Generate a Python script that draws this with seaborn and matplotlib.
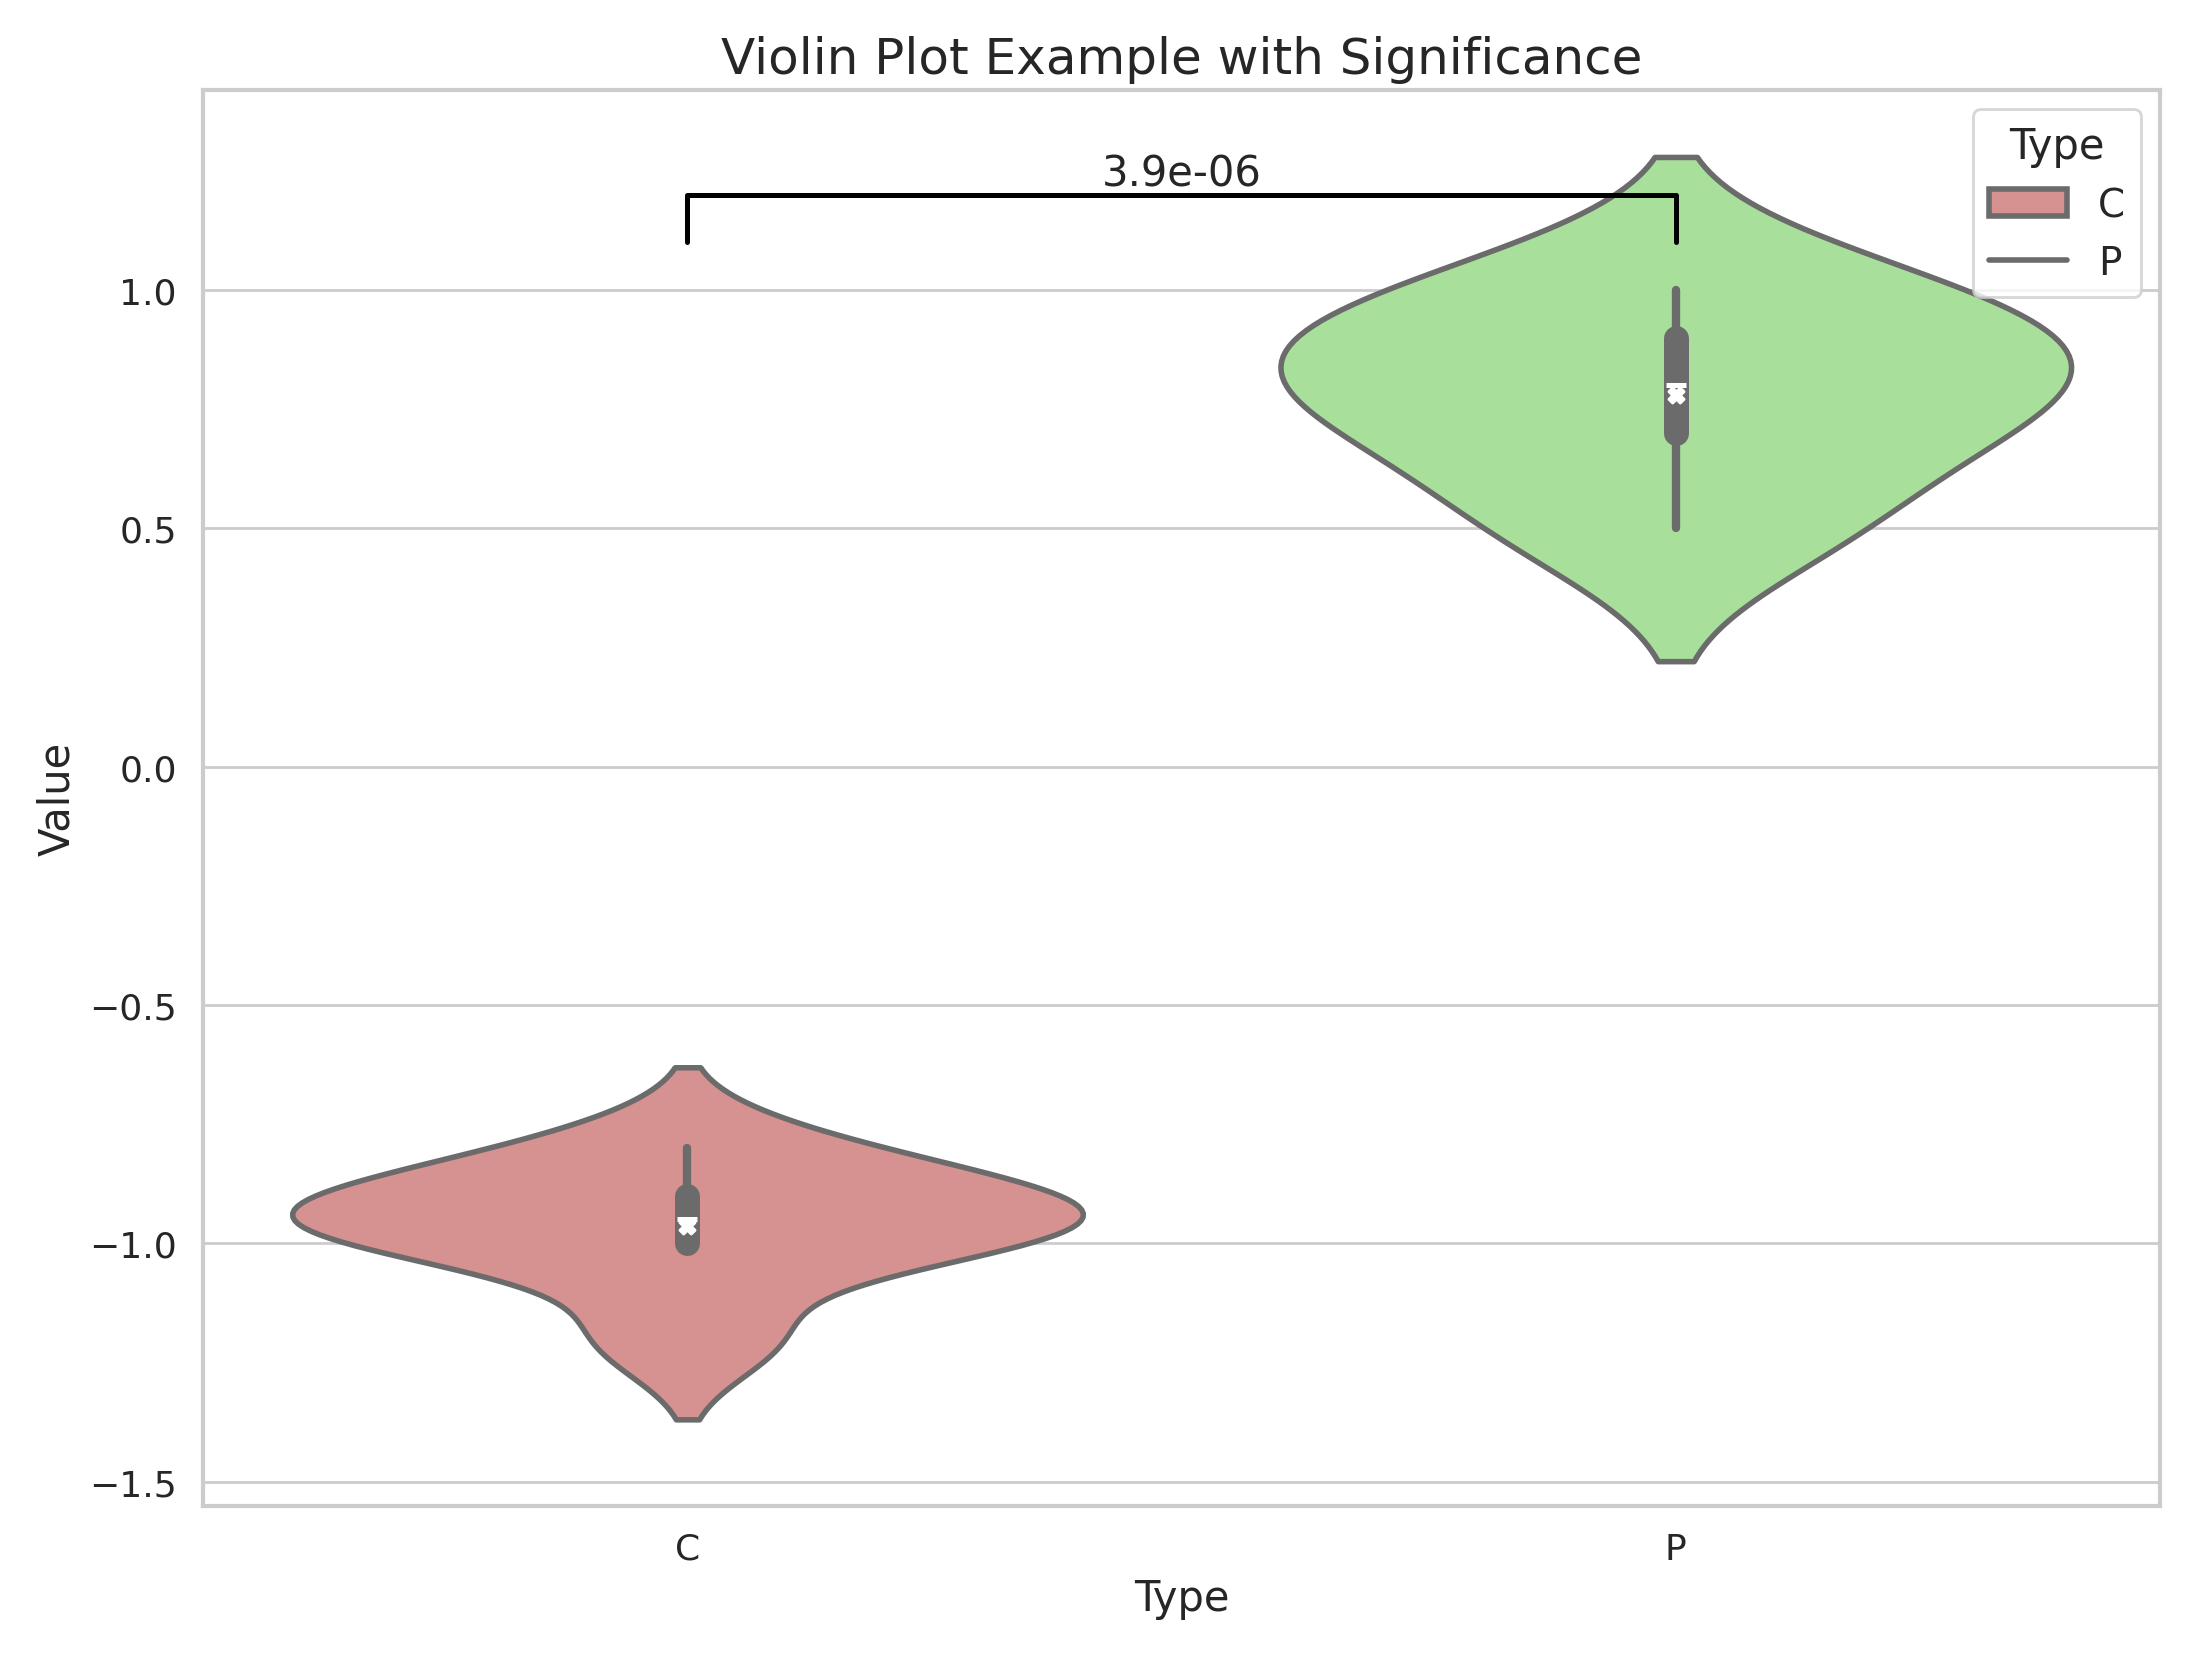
import numpy as np
import pandas as pd
import seaborn as sns
import matplotlib
matplotlib.use("Agg")
import matplotlib.pyplot as plt
from matplotlib.patches import Patch
from matplotlib.lines import Line2D

types = ["C", "P"]
c_values = [-0.80, -0.90, -0.90, -0.95, -1.00, -1.00, -1.20]
p_values = [0.50, 0.70, 0.80, 0.90, 1.00]
p_label = "3.9e-06"

df = pd.DataFrame({"Type": ["C"] * len(c_values) + ["P"] * len(p_values),
                   "Value": c_values + p_values})

sns.set_theme(style="whitegrid")
fig, ax = plt.subplots(figsize=(10.98, 8.28), dpi=200)
palette = {"C": "#d69191", "P": "#a8e09b"}
sns.violinplot(data=df, x="Type", y="Value", hue="Type", palette=palette, saturation=1,
               inner="box", ax=ax, legend=False, linewidth=2, linecolor="#6b6b6b",
               density_norm="width", width=0.8)
means = df.groupby("Type")["Value"].mean()
ax.scatter(range(len(types)), [means[t] for t in types], marker="X", color="white", s=30, zorder=5)

ymax = 1.1
h = 0.1
ax.plot([0, 0, 1, 1], [ymax, ymax + h, ymax + h, ymax], color="black", lw=1.8)
ax.text(0.5, ymax + h, p_label, ha="center", va="bottom", fontsize=15)

ax.set_ylim(-1.55, 1.42)
ax.set_title("Violin Plot Example with Significance", fontsize=18)
ax.set_xlabel("Type", fontsize=15)
ax.set_ylabel("Value", fontsize=15)
ax.tick_params(labelsize=13)
for s in ax.spines.values():
    s.set_color("#cccccc"); s.set_linewidth(1.5)
handles = [Patch(facecolor="#d69191", edgecolor="#6b6b6b", linewidth=2),
           Line2D([0], [0], color="#6b6b6b", lw=2)]
ax.legend(handles, types, title="Type", loc="upper right", fontsize=14, title_fontsize=15)
fig.tight_layout()
fig.savefig("out.png", dpi=200)
